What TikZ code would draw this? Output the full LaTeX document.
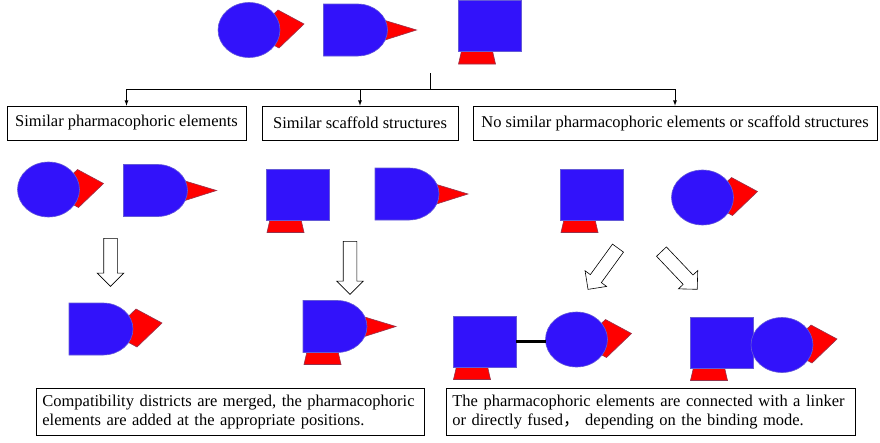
\documentclass[tikz,border=0pt]{standalone}
\usepackage{fontspec}
\setmainfont{Liberation Serif}
\newfontfamily\cjkfont{Noto Sans CJK SC}
\usepackage{tikz}
\usetikzlibrary{arrows}
\usetikzlibrary{shapes.arrows}

\definecolor{pharmblue}{RGB}{50,18,250}
\definecolor{pharmedge}{RGB}{100,90,215}
\definecolor{pharmred}{RGB}{255,0,0}
\definecolor{rededge}{RGB}{150,50,75}

\tikzset{
  bluepart/.style={fill=pharmblue, draw=pharmedge, line width=0.6pt},
  redpart/.style={fill=pharmred, draw=rededge, line width=0.6pt},
  wire/.style={line width=0.8pt},
  linker/.style={line width=2.6pt},
  labelbox/.style={draw, line width=0.7pt, minimum height=34pt, inner sep=3pt,
    font=\fontsize{16.5}{19}\selectfont},
  notebox/.style={draw, line width=0.7pt, anchor=north west, align=left,
    inner xsep=6pt, inner ysep=5pt, minimum height=47pt,
    font=\fontsize{16.5}{18.5}\selectfont},
  hollow/.style={single arrow, draw, fill=white, line width=0.6pt,
    inner sep=6.5pt, single arrow head extend=6.5pt, minimum height=#1},
  % red pieces
  pics/kite/.style={code={
    \draw[redpart] (4,4) -- (29,-20) -- (55,-6) -- (30,18) -- cycle;}},
  pics/cone/.style={code={
    \draw[redpart] (18,-13) -- (61,0) -- (20,13) -- cycle;}},
  pics/foot/.style={code={
    \draw[redpart] (-28,25) -- (3,25) -- (6,38) -- (-31,38) -- cycle;}},
  % blue pieces
  pics/oval/.style={code={
    \draw[bluepart] (0,0) ellipse [x radius=31, y radius=27.5];
    \coordinate (-w) at (-31,0);}},
  pics/dhead/.style={code={
    \draw[bluepart] (-32,-26) -- (2,-26)
      arc [start angle=-90, end angle=90, x radius=30, y radius=26]
      -- (-32,26) -- cycle;}},
  pics/block/.style={code={
    \draw[bluepart] (-31.5,-25.5) rectangle (31.5,25.5);
    \coordinate (-e) at (31.5,0);}},
  % combined fragments
  pics/ovalkite/.style={code={\pic{kite}; \pic{oval};}},
  pics/dcone/.style={code={\pic{cone}; \pic{dhead};}},
  pics/blockfoot/.style={code={\pic{foot}; \pic{block};}},
}

\begin{document}
\begin{tikzpicture}[x=1pt,y=-1pt]
  \useasboundingbox (0,0) rectangle (880,442);
  %
  % starting fragments
  \pic at (249,30) {ovalkite};
  \pic at (355.5,30) {dcone};
  \pic at (489.5,26) {blockfoot};
  %
  % three cases
  \coordinate (fork) at (430,73);
  \coordinate (bus) at (430,89);
  \node[labelbox, minimum width=239pt] (simpharm) at (126.5,123)
    {Similar pharmacophoric elements};
  \node[labelbox, minimum width=196pt] (simscaf) at (360,123)
    {Similar scaffold structures};
  \node[labelbox, minimum width=404pt] (nosim) at (675,123)
    {No similar pharmacophoric elements or scaffold structures};
  \draw[wire] (fork) -- (bus);
  \draw[wire,-latex] (bus) -| (simpharm.north);
  \draw[wire,-latex] (bus) -| (simscaf.north);
  \draw[wire,-latex] (bus) -| (nosim.north);
  %
  % fragments of each case
  \pic at (48.5,189.5) {ovalkite};
  \pic at (155.5,190.5) {dcone};
  \pic at (298,194.5) {blockfoot};
  \pic at (407,194) {dcone};
  \pic at (592,194.5) {blockfoot};
  \pic at (702.5,197.5) {ovalkite};
  %
  % hollow arrows
  \node[hollow=48pt, rotate=-90] (arrA) at (110.5,259) {};
  \node[hollow=53pt, rotate=-90] (arrB) at (350,264.5) {};
  \node[hollow=51pt, rotate=-126] (arrC) at (605,266) {};
  \node[hollow=52pt, rotate=-46.5] (arrD) at (677,268) {};
  %
  % results
  \pic at (107,329) {kite};
  \pic at (101,329) {dhead};
  \pic at (335,326.5) {foot};
  \pic at (335,326.5) {dcone};
  \pic (sqL) at (484.5,341.5) {blockfoot};
  \pic (ovL) at (576.5,339.5) {ovalkite};
  \draw[linker] (sqL-e) -- (sqL-e -| ovL-w);
  \pic at (721.5,342.5) {blockfoot};
  \pic at (782,345) {ovalkite};
  %
  % notes
  \node[notebox, text width=376pt] (mergenote) at (36,388)
    {Compatibility districts are merged, the pharmacophoric\\
     elements are added at the appropriate positions.};
  \node[notebox, text width=397pt] (linknote) at (446,388)
    {The pharmacophoric elements are connected with a linker\\
     or directly fused{\cjkfont ，}\ depending on the binding mode.};
\end{tikzpicture}
\end{document}
